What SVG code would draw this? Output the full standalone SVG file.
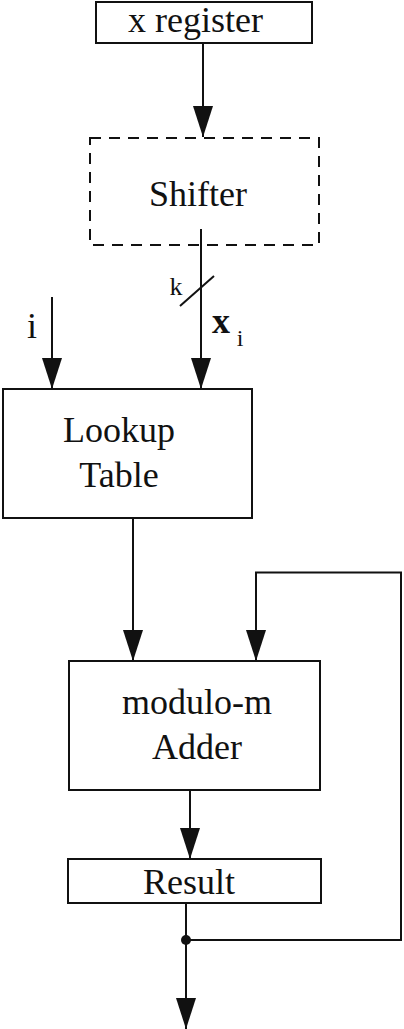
<svg xmlns="http://www.w3.org/2000/svg" width="404" height="1029" viewBox="0 0 404 1029">
<style>
.box{fill:#fff;stroke:#111;stroke-width:2}
.dash{fill:none;stroke:#111;stroke-width:2;stroke-dasharray:11 8}
.t{font-family:"Liberation Serif","Times New Roman",serif;font-size:36px;fill:#111;text-anchor:middle}
.ln{fill:none;stroke:#111;stroke-width:2}
</style>
<defs>
<marker id="ah" markerUnits="userSpaceOnUse" markerWidth="31" markerHeight="20" refX="31" refY="10" orient="auto" viewBox="0 0 31 20">
<path d="M0,0 L31,10 L0,20 Z" fill="#111"/>
</marker>
</defs>
<g id="connectors">
<line class="ln" x1="203" y1="43" x2="203" y2="137" marker-end="url(#ah)"/>
<line class="ln" x1="201" y1="229" x2="201" y2="389" marker-end="url(#ah)"/>
<line class="ln" x1="180" y1="306" x2="214" y2="276"/>
<line class="ln" x1="52" y1="297" x2="52" y2="389" marker-end="url(#ah)"/>
<line class="ln" x1="133" y1="518" x2="133" y2="661" marker-end="url(#ah)"/>
<polyline class="ln" points="186,940 401,940 401,572.5 256,572.5 256,661" marker-end="url(#ah)"/>
<line class="ln" x1="190" y1="790" x2="190" y2="859" marker-end="url(#ah)"/>
<line class="ln" x1="186" y1="903" x2="186" y2="1029" marker-end="url(#ah)"/>
<circle cx="186" cy="940" r="5" fill="#111"/>
</g>
<g id="xreg">
<rect class="box" x="96" y="2" width="216" height="41"/>
<text class="t" x="195.5" y="32">x register</text>
</g>
<g id="shifter">
<rect class="dash" x="90" y="138" width="229" height="107"/>
<text class="t" x="198" y="206">Shifter</text>
</g>
<g id="labels">
<text class="t" x="176" y="295" style="font-size:26px">k</text>
<text class="t" x="221" y="333" style="font-weight:bold">x</text>
<text class="t" x="240" y="346" style="font-size:24px">i</text>
<text class="t" x="32" y="338">i</text>
</g>
<g id="lookup">
<rect class="box" x="3" y="389" width="249" height="129"/>
<text class="t" x="119" y="442">Lookup</text>
<text class="t" x="119" y="487">Table</text>
</g>
<g id="adder">
<rect class="box" x="69" y="661" width="251" height="129"/>
<text class="t" x="197" y="714">modulo-m</text>
<text class="t" x="197" y="759">Adder</text>
</g>
<g id="result">
<rect class="box" x="68" y="859" width="253" height="44"/>
<text class="t" x="189" y="894">Result</text>
</g>
</svg>
